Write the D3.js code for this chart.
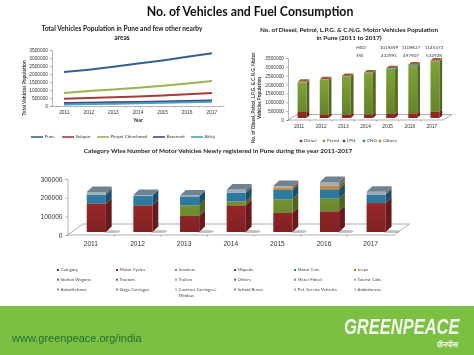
<!DOCTYPE html>
<html>
<head>
<meta charset="utf-8">
<title>No. of Vehicles and Fuel Consumption</title>
<script src="https://cdn.jsdelivr.net/npm/d3@7"></script>
<style>
  html, body { margin: 0; padding: 0; background: #fff; }
  svg { display: block; font-family: Lato, "Open Sans", sans-serif; filter: blur(0.3px); }
  .axis path, .axis line { stroke: #8b98a6; stroke-width: 0.7; }
  .axis text { fill: #333; }
</style>
</head>
<body>
<div id="chart"></div>
<script>
var years = ["2011", "2012", "2013", "2014", "2015", "2016", "2017"];

// Total vehicles population
var pune = [2120000, 2270000, 2450000, 2650000, 2850000, 3080000, 3300000];
var solapur = [450000, 500000, 550000, 600000, 660000, 730000, 810000];
var pimpri = [820000, 930000, 1030000, 1140000, 1270000, 1410000, 1560000];
var baramati = [180000, 200000, 230000, 250000, 280000, 310000, 350000];
var akluj = [100000, 120000, 140000, 170000, 200000, 230000, 270000];
var lineNames = ["Pune", "Solapur", "Pimpri Chinchwad", "Baramati", "Akluj"];
var lineTicks = [0, 500000, 1000000, 1500000, 2000000, 2500000, 3000000, 3500000];

// Fuel wise population
var diesel = [340000, 170000, 190000, 200000, 230000, 260000, 350000];
var petrol = [1660000, 1980000, 2140000, 2320000, 2490000, 2650000, 2830000];
var lpg = [5000, 6000, 6000, 7000, 8000, 9000, 9000];
var cng = [10000, 15000, 20000, 25000, 65000, 65000, 15000];
var others = [25000, 15000, 15000, 15000, 15000, 25000, 30000];
var fuelNames = ["Diesel", "Petrol", "LPG", "CNG", "Others"];
var fuelTicks = lineTicks;
var tableHsd = ["1019499", "1109627", "1145373"];
var tableMs = ["433991", "497907", "532928"];

// Newly registered, category wise
var motorCycles = [152000, 143000, 86000, 143000, 102000, 111000, 155000];
var scooters = [0, 0, 57000, 21000, 73000, 68000, 0];
var motorCars = [48000, 52000, 48000, 46000, 50000, 50000, 46000];
var jeeps = [0, 0, 0, 0, 14000, 18000, 0];
var stationWagons = [14000, 3000, 4000, 18000, 7000, 21000, 14000];
var regNames = ["motorCycles", "scooters", "motorCars", "jeeps", "stationWagons"];
var regTicks = [0, 100000, 200000, 300000];
var categoryLegend = [
  ["Category", "Station  Wagons", "Autorikshaws"],
  ["Motor Cycles", "Tractors", "Stage Carriages"],
  ["Scooters", "Trailers", "Contract Carriages/"],
  ["Mopeds", "Others", "School Buses"],
  ["Motor Cars", "Meter Fitted", "Pvt. Service Vehicles"],
  ["Jeeps", "Tourist Cabs", "Ambulances"]
];

var lineColors = ["#33608f", "#a83c38", "#98b454", "#50407c", "#3fa2c2"];
var fuelColors = ["#b5302a", "#7fa335", "#4a3d7c", "#2f8c9c", "#c07a3a"];
var regColors = ["#a32a2c", "#7c9c34", "#2f7ea6", "#d08a3c", "#a3abb4"];
var legendColors = [
  ["#2f4f7f", "#3f6fa0", "#6f8fb0"],
  ["#8f2a2a", "#a84040", "#b87070"],
  ["#7c9c34", "#98b060", "#b8c890"],
  ["#50407c", "#70608f", "#9488a8"],
  ["#2f7ea6", "#4f9cb8", "#80b8c8"],
  ["#c07030", "#d89050", "#e0b088"]
];

var svg = d3.select("#chart").append("svg")
    .attr("width", 474)
    .attr("height", 355);

svg.append("rect").attr("width", 474).attr("height", 355).attr("fill", "#fff");

// darkens the bars towards the floor
var shade = svg.append("defs").append("linearGradient")
    .attr("id", "shade")
    .attr("x1", 0).attr("y1", 0).attr("x2", 0).attr("y2", 1);
shade.append("stop").attr("offset", "0%").attr("stop-color", "#000").attr("stop-opacity", 0);
shade.append("stop").attr("offset", "100%").attr("stop-color", "#000").attr("stop-opacity", 0.22);

function label(parent, x, y, str, size, opts) {
  opts = opts || {};
  return parent.append("text")
      .attr("x", x)
      .attr("y", y)
      .attr("font-size", size)
      .attr("font-weight", opts.bold ? 700 : 400)
      .attr("text-anchor", opts.anchor || "start")
      .attr("dominant-baseline", "middle")
      .attr("fill", opts.fill || "#333")
      .text(str);
}

// category ticks sit between the bands, as in the office chart
function bandTicks(band, y0) {
  svg.append("g").attr("class", "axis")
    .selectAll("line")
    .data(band.domain().slice(1))
    .join("line")
      .attr("x1", function(d) { return band(d); })
      .attr("x2", function(d) { return band(d); })
      .attr("y1", y0)
      .attr("y2", y0 + 1.8);
}

label(svg, 250, 13, "No. of Vehicles and Fuel Consumption", 12.3, { bold: true, anchor: "middle", fill: "#111" });

// ---- line chart ----
var x1 = d3.scalePoint().domain(years).range([64, 212]);
var x1Band = d3.scaleBand().domain(years).range([52, 224]);
var y1 = d3.scaleLinear().domain([0, 3500000]).range([106, 50]);

label(svg, 122, 29, "Total Vehicles Population in Pune and few other nearby", 6.6, { bold: true, anchor: "middle", fill: "#222" });
label(svg, 122, 38, "areas", 6.6, { bold: true, anchor: "middle", fill: "#222" });

var xAxis1 = svg.append("g").attr("class", "axis")
    .attr("transform", "translate(0,106)")
    .call(d3.axisBottom(x1Band).tickSize(0).tickPadding(5));
xAxis1.selectAll("text").attr("font-size", 4.8).attr("font-family", "inherit");
bandTicks(x1Band, 106);

var yAxis1 = svg.append("g").attr("class", "axis")
    .attr("transform", "translate(52,0)")
    .call(d3.axisLeft(y1).tickValues(lineTicks).tickFormat(d3.format("d")).tickSize(2).tickPadding(2));
yAxis1.selectAll("text").attr("font-size", 4.8).attr("font-family", "inherit");

label(svg, 0, 0, "Total Vehicles Population", 5, { bold: true, anchor: "middle" })
    .attr("transform", "translate(25,88) rotate(-90)");
label(svg, 138, 121, "Year", 5, { bold: true, anchor: "middle" });

var line = d3.line()
    .x(function(d, i) { return x1(years[i]); })
    .y(function(d) { return y1(d); });

[pune, solapur, pimpri, baramati, akluj].forEach(function(s, i) {
  svg.append("path")
      .datum(s)
      .attr("fill", "none")
      .attr("stroke", lineColors[i])
      .attr("stroke-width", 2)
      .attr("d", line);
});

var lineLegendX = [31, 62, 97, 153, 191];
lineNames.forEach(function(name, i) {
  svg.append("line")
      .attr("x1", lineLegendX[i]).attr("x2", lineLegendX[i] + 12)
      .attr("y1", 137).attr("y2", 137)
      .attr("stroke", lineColors[i]).attr("stroke-width", 1.6);
  label(svg, lineLegendX[i] + 13.5, 137.3, name, 4.6);
});

// ---- 3d stacked bars, drawn from a d3 stack ----
function bars3d(keys, columns, colors, x, y, opts) {
  var rows = years.map(function(yr, i) {
    var row = { year: yr };
    keys.forEach(function(k, j) { row[k] = columns[j][i]; });
    return row;
  });
  var layers = d3.stack().keys(keys)(rows);
  var g = svg.append("g");

  rows.forEach(function(row, i) {
    var left = x(row.year) + opts.shift;
    var right = left + x.bandwidth();
    var dx = opts.dx, dy = opts.dy;

    // soft shadow on the floor
    if (opts.shadow) {
      g.append("ellipse")
          .attr("cx", right + dx).attr("cy", y(0) - 0.5)
          .attr("rx", dx + 3).attr("ry", 1.6)
          .attr("fill", "#999").attr("opacity", 0.6);
    }

    var topColor = null;
    layers.forEach(function(layer, j) {
      var seg = layer[i];
      if (seg[1] - seg[0] <= 0) return;
      var col = d3.color(colors[j]);
      topColor = col;
      g.append("path")
          .attr("d", "M" + right + "," + y(seg[0]) + "L" + (right + dx) + "," + (y(seg[0]) - dy) +
                     "L" + (right + dx) + "," + (y(seg[1]) - dy) + "L" + right + "," + y(seg[1]) + "Z")
          .attr("fill", col.darker(1.3));
      g.append("rect")
          .attr("x", left).attr("y", y(seg[1]))
          .attr("width", x.bandwidth())
          .attr("height", y(seg[0]) - y(seg[1]))
          .attr("fill", col);
    });

    var total = layers[layers.length - 1][i][1];
    g.append("rect")
        .attr("x", left).attr("y", y(total))
        .attr("width", x.bandwidth())
        .attr("height", y(0) - y(total))
        .attr("fill", "url(#shade)");
    g.append("path")
        .attr("d", "M" + left + "," + y(total) + "L" + (left + dx) + "," + (y(total) - dy) +
                   "L" + (right + dx) + "," + (y(total) - dy) + "L" + right + "," + y(total) + "Z")
        .attr("fill", opts.topFill || topColor.darker(0.6));
  });
}

function floor(xa, xb, y0, dx, dy) {
  svg.append("path")
      .attr("d", "M" + xa + "," + y0 + "L" + (xa + dx) + "," + (y0 - dy) + "L" + (xb + dx) + "," + (y0 - dy) +
                 "L" + xb + "," + y0 + "Z")
      .attr("fill", "#fff")
      .attr("stroke", "#9a9a9a")
      .attr("stroke-width", 0.8);
}

// ---- fuel chart ----
label(svg, 349, 30, "No. of Diesel, Petrol, L.P.G. & C.N.G. Motor Vehicles Population", 6.4, { bold: true, anchor: "middle", fill: "#222" });
label(svg, 349, 38.5, "in Pune (2011 to 2017)", 6.4, { bold: true, anchor: "middle", fill: "#222" });

var x2 = d3.scaleBand().domain(years).range([288, 443]).paddingInner(0.6).paddingOuter(0.3);
var x2Axis = d3.scaleBand().domain(years).range([288, 443]);
var y2 = d3.scaleLinear().domain([0, 3500000]).range([120, 58]);
var y2Bars = d3.scaleLinear().domain([0, 3500000]).range([118, 56]);

floor(288, 443, 120, 9, 5.5);

var yAxis2 = svg.append("g").attr("class", "axis")
    .attr("transform", "translate(288,0)")
    .call(d3.axisLeft(y2).tickValues(fuelTicks).tickFormat(d3.format("d")).tickSize(2).tickPadding(2));
yAxis2.selectAll("text").attr("font-size", 4.8).attr("font-family", "inherit");

var xAxis2 = svg.append("g").attr("class", "axis")
    .attr("transform", "translate(0,120)")
    .call(d3.axisBottom(x2Axis).tickSize(0).tickPadding(5));
xAxis2.select(".domain").remove();
xAxis2.selectAll("text").attr("font-size", 4.8).attr("font-family", "inherit");
bandTicks(x2Axis, 120);

bars3d(fuelNames, [diesel, petrol, lpg, cng, others], fuelColors, x2, y2Bars,
    { shift: 3, dx: 2.8, dy: 2.6 });

label(svg, 0, 0, "No. of Diesel, Petrol, L.P.G. & C.N.G. Motor", 4.8, { bold: true, anchor: "middle" })
    .attr("transform", "translate(254,98) rotate(-90)");
label(svg, 0, 0, "Vehicles Population", 4.8, { bold: true, anchor: "middle" })
    .attr("transform", "translate(260,98) rotate(-90)");

label(svg, 361, 48, "HSD", 4.6, { anchor: "middle" });
label(svg, 360, 56, "MS", 4.6, { anchor: "middle" });
[389, 411, 434].forEach(function(cx, i) {
  label(svg, cx, 48, tableHsd[i], 4.6, { anchor: "middle" });
  label(svg, cx, 56, tableMs[i], 4.6, { anchor: "middle" });
});

var fuelLegendX = [301, 324, 344, 364, 380];
fuelNames.forEach(function(name, i) {
  svg.append("rect")
      .attr("x", fuelLegendX[i] - 1.2).attr("y", 139.8)
      .attr("width", 2.4).attr("height", 2.4)
      .attr("fill", fuelColors[i]);
  label(svg, fuelLegendX[i] + 3, 141, name, 4.6);
});

// ---- registration chart ----
label(svg, 218, 151, "Category Wise Number of Motor Vehicles Newly registered in Pune during the year 2011-2017", 6.4, { bold: true, anchor: "middle", fill: "#222" });

var x3 = d3.scaleBand().domain(years).range([67.5, 394]).paddingInner(0.59).paddingOuter(0.295);
var x3Axis = d3.scaleBand().domain(years).range([67.5, 394]);
var y3 = d3.scaleLinear().domain([0, 300000]).range([235, 179]);
var y3Bars = d3.scaleLinear().domain([0, 300000]).range([232, 176]);

floor(67.5, 394, 235, 15.5, 11);

var yAxis3 = svg.append("g").attr("class", "axis")
    .attr("transform", "translate(67.5,0)")
    .call(d3.axisLeft(y3).tickValues(regTicks).tickFormat(d3.format("d")).tickSize(2).tickPadding(3));
yAxis3.selectAll("text").attr("font-size", 6.6).attr("font-family", "inherit");

var xAxis3 = svg.append("g").attr("class", "axis")
    .attr("transform", "translate(0,235)")
    .call(d3.axisBottom(x3Axis).tickSize(0).tickPadding(6));
xAxis3.select(".domain").remove();
xAxis3.selectAll("text").attr("font-size", 6.6).attr("font-family", "inherit");
bandTicks(x3Axis, 235);

bars3d(regNames, [motorCycles, scooters, motorCars, jeeps, stationWagons], regColors, x3, y3Bars,
    { shift: 5.5, dx: 5.8, dy: 5.5, shadow: true, topFill: "#6f8292" });

var regLegendX = [58, 117, 176, 235, 295, 355];
var regLegendY = [270, 279.7, 289.5];
categoryLegend.forEach(function(col, i) {
  col.forEach(function(name, j) {
    svg.append("rect")
        .attr("x", regLegendX[i] - 1).attr("y", regLegendY[j] - 1)
        .attr("width", 2).attr("height", 2)
        .attr("fill", legendColors[i][j]);
    label(svg, regLegendX[i] + 2.5, regLegendY[j], name, 4.4, { fill: "#444" });
  });
});
label(svg, 178.5, 295.5, "Minibus", 4.4, { fill: "#444" });

// ---- footer ----
svg.append("rect")
    .attr("x", 0).attr("y", 306)
    .attr("width", 474).attr("height", 49)
    .attr("fill", "#7cc043");

svg.append("text")
    .attr("x", 12).attr("y", 342)
    .attr("font-family", "'Liberation Sans', Arial, sans-serif")
    .attr("font-size", 11)
    .attr("fill", "#1f6f35")
    .text("www.greenpeace.org/india");

svg.append("text")
    .attr("transform", "translate(344,333.5) scale(1,1.3)")
    .attr("font-family", "'Liberation Sans', Arial, sans-serif")
    .attr("font-size", 16.5)
    .attr("font-weight", 700)
    .attr("font-style", "italic")
    .attr("fill", "#f4f8ec")
    .text("GREENPEACE");

svg.append("text")
    .attr("x", 458).attr("y", 347)
    .attr("text-anchor", "end")
    .attr("font-size", 7.5)
    .attr("font-weight", 700)
    .attr("fill", "#f4f8ec")
    .text("ग्रीनपीस");
</script>
</body>
</html>
